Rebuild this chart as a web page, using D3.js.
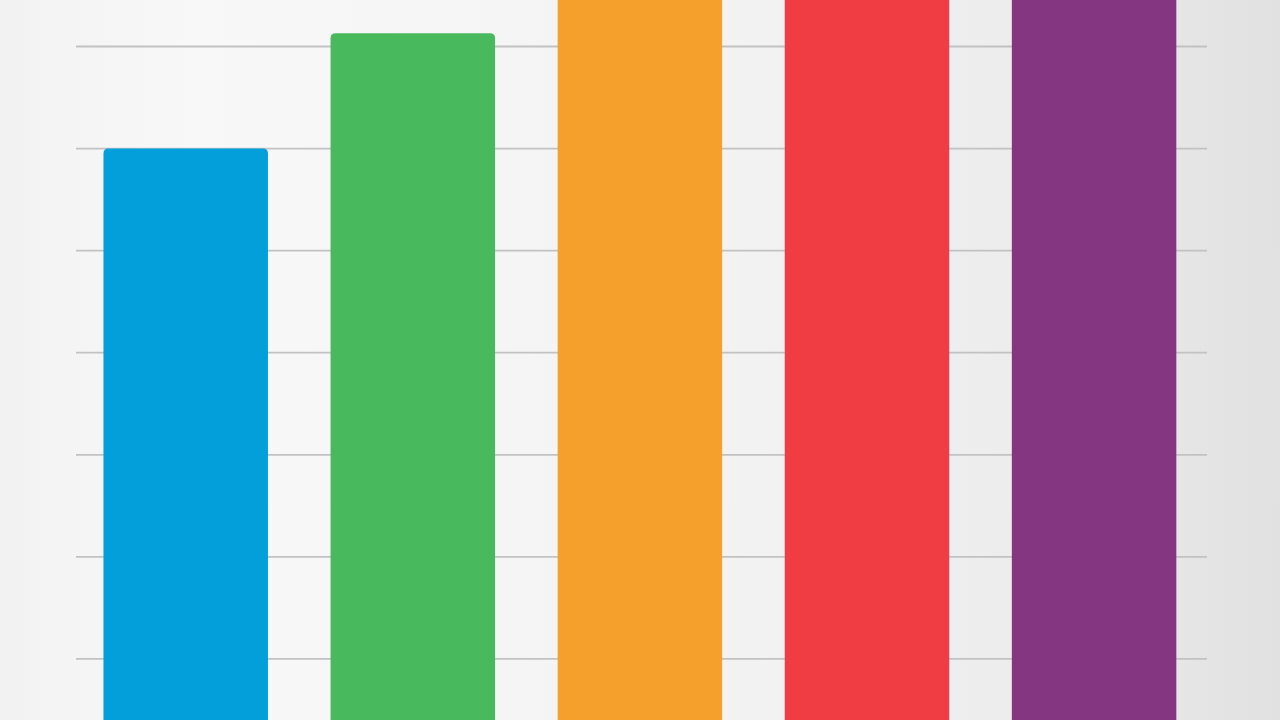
<!DOCTYPE html>
<html>
<head>
<meta charset="utf-8">
<script src="https://cdn.jsdelivr.net/npm/d3@7"></script>
<style>
  html, body { margin: 0; padding: 0; overflow: hidden; }
  #chart { width: 1280px; height: 720px; }
</style>
</head>
<body>
<div id="chart"></div>
<script>
const width = 1280;
const height = 720;

// data
const categories = ["A", "B", "C", "D", "E"];
const values = [60, 71.3, 80, 85, 90];
const colors = ["#039fda", "#48b95d", "#f59f2d", "#ef3d43", "#853680"];
const gridTicks = [10, 20, 30, 40, 50, 60, 70];

const svg = d3.select("#chart")
    .append("svg")
    .attr("width", width)
    .attr("height", height);

// background: lighter on the left, greyer towards the right
const defs = svg.append("defs");
const grad = defs.append("linearGradient")
    .attr("id", "bg")
    .attr("x1", "0%").attr("x2", "100%")
    .attr("y1", "0%").attr("y2", "0%");
grad.append("stop").attr("offset", "0%").attr("stop-color", "#f2f2f2");
grad.append("stop").attr("offset", "15%").attr("stop-color", "#f8f8f8");
grad.append("stop").attr("offset", "55%").attr("stop-color", "#f3f3f3");
grad.append("stop").attr("offset", "82%").attr("stop-color", "#ececec");
grad.append("stop").attr("offset", "100%").attr("stop-color", "#e1e1e1");

svg.append("rect")
    .attr("width", width)
    .attr("height", height)
    .attr("fill", "url(#bg)");

// scales
const x = d3.scaleBand()
    .domain(categories)
    .range([74.4, 1205.4])
    .paddingInner(0.2757)
    .paddingOuter(0.128);

const y = d3.scaleLinear()
    .domain([0, 70])
    .range([761, 46.5]);

// grid lines
svg.append("g")
    .selectAll("line")
    .data(gridTicks)
    .enter()
    .append("line")
    .attr("x1", 76)
    .attr("x2", 1207)
    .attr("y1", d => y(d))
    .attr("y2", d => y(d))
    .attr("stroke", "#c2c2c2")
    .attr("stroke-width", 1.8);

// bars with rounded top corners
const r = 5;
function barPath(d, i) {
    const x0 = x(categories[i]);
    const w = x.bandwidth();
    const top = y(d);
    const bottom = height + 10;
    return `M${x0},${bottom} V${top + r} Q${x0},${top} ${x0 + r},${top}` +
        ` H${x0 + w - r} Q${x0 + w},${top} ${x0 + w},${top + r} V${bottom} Z`;
}

svg.append("g")
    .selectAll("path")
    .data(values)
    .enter()
    .append("path")
    .attr("d", (d, i) => barPath(d, i))
    .attr("fill", (d, i) => colors[i]);
</script>
</body>
</html>
